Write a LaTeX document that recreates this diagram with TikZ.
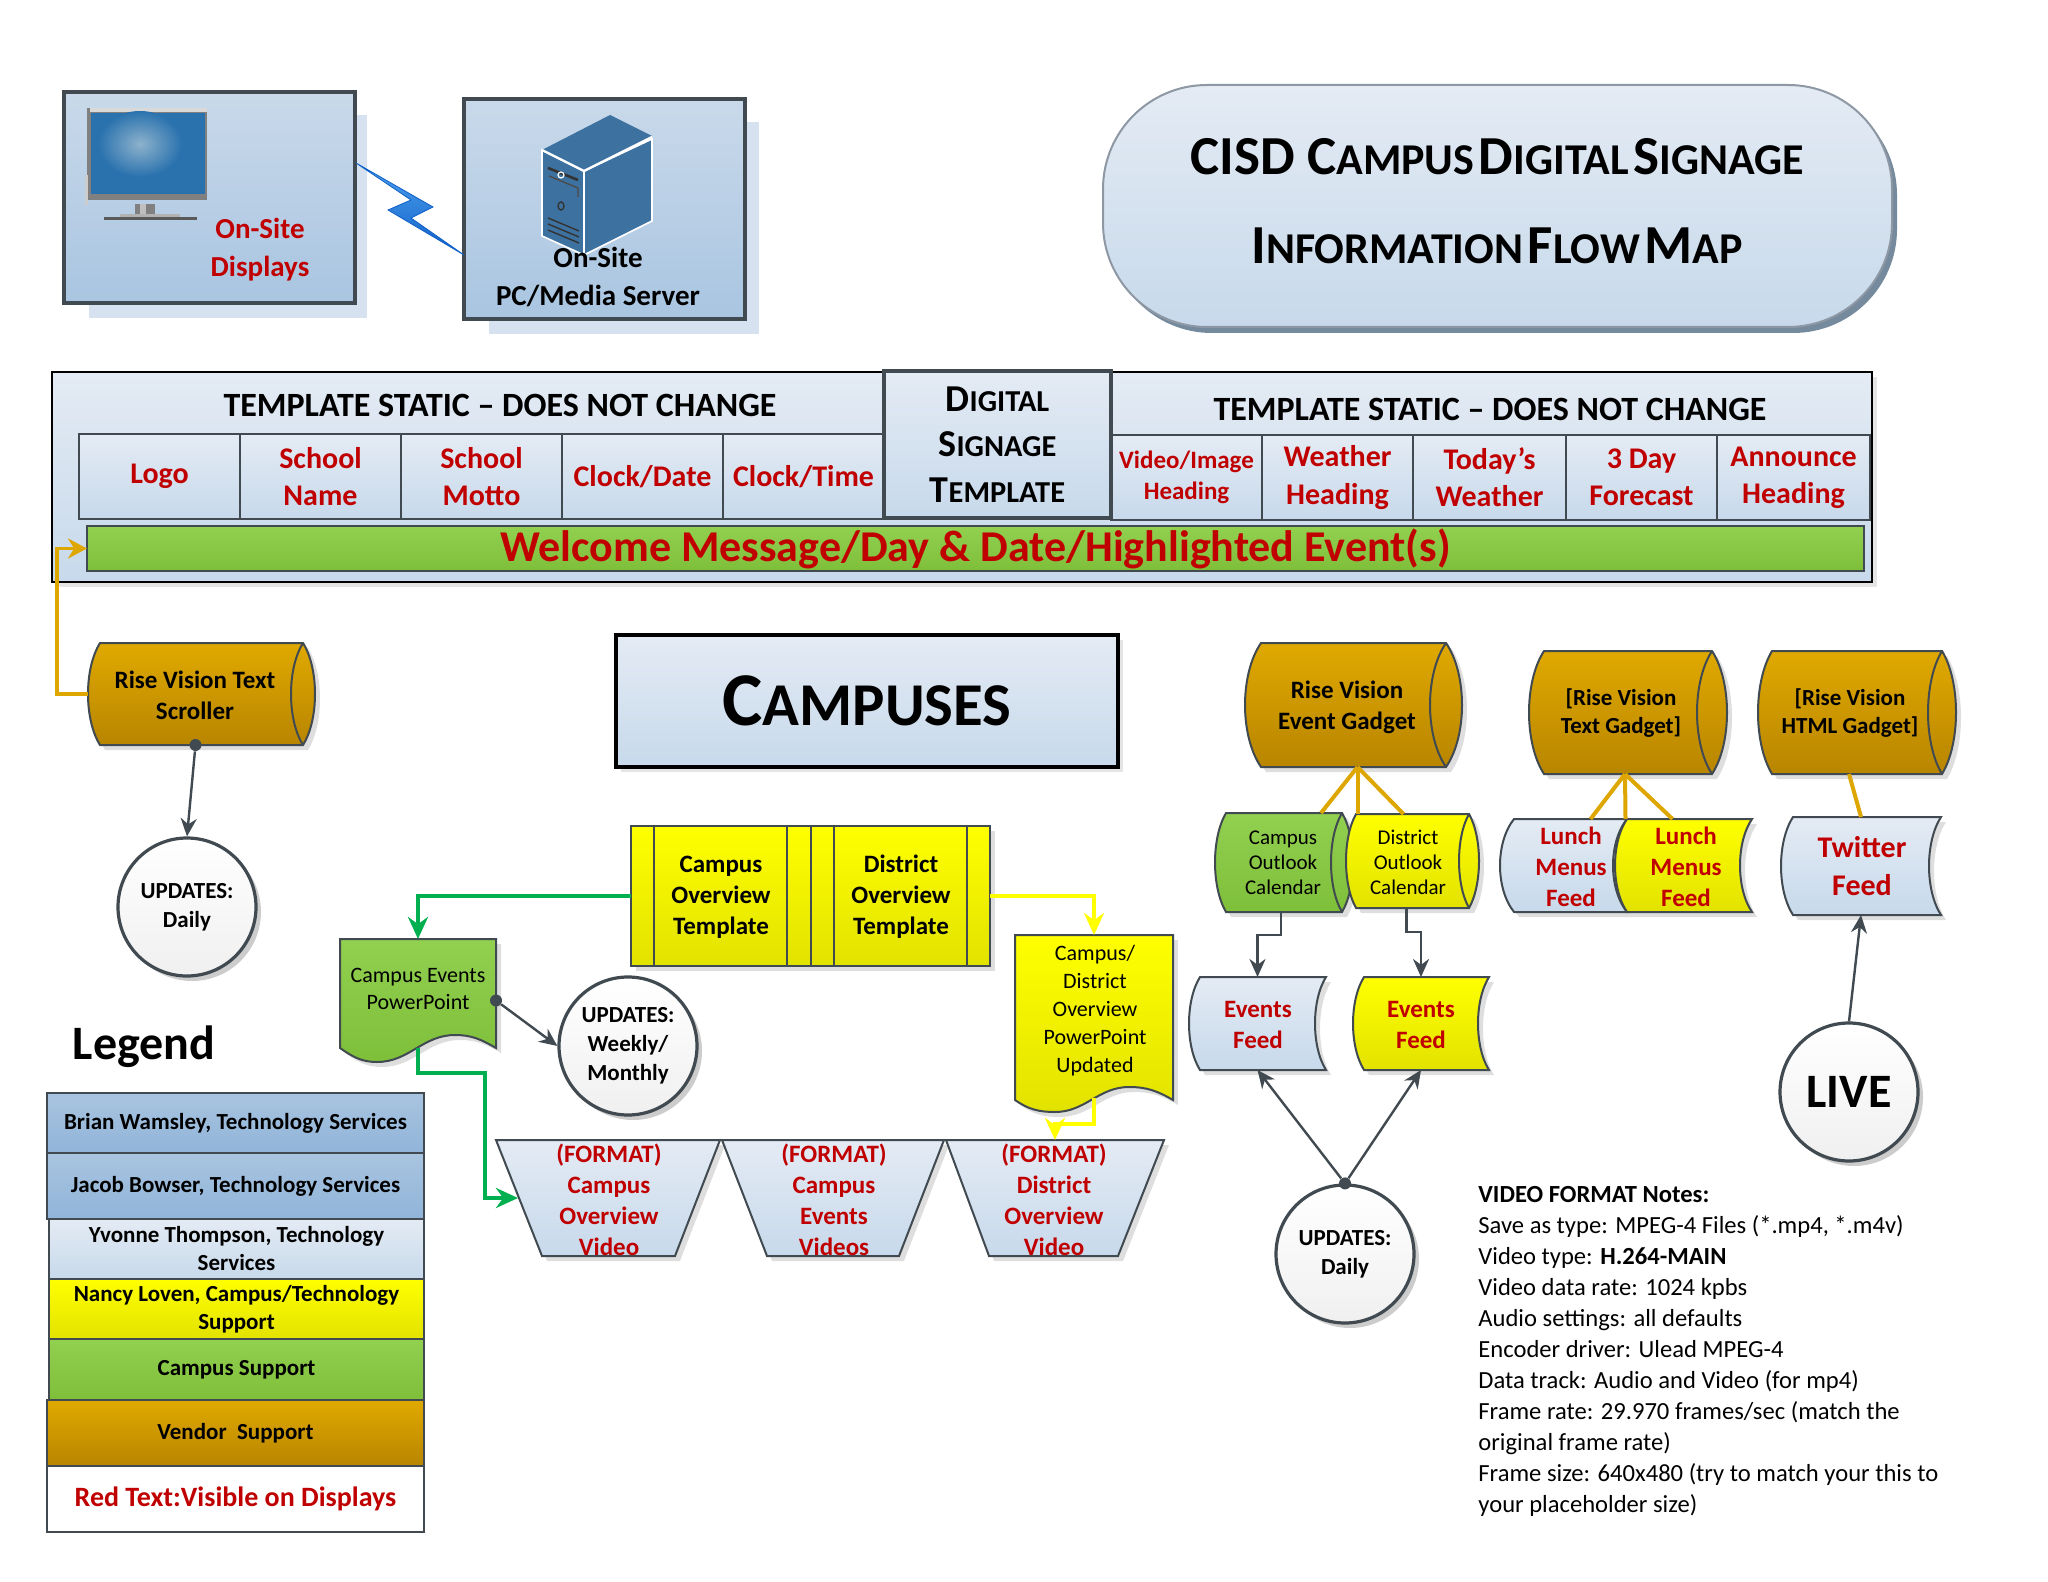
\documentclass[tikz,border=0pt]{standalone}
\usepackage{fontspec}
\setmainfont{Carlito}
\usetikzlibrary{arrows.meta,calc,shadows}
\definecolor{rd}{HTML}{C00000}
\definecolor{ln}{HTML}{404A50}
\definecolor{gldl}{HTML}{DDA600}
\definecolor{grnl}{HTML}{00B050}
\definecolor{ylwl}{HTML}{FFFF00}
\definecolor{scrn}{HTML}{2A72AE}
\definecolor{glow}{HTML}{8DB2CC}
\definecolor{srvc}{HTML}{3D719F}
\definecolor{boltA}{HTML}{4FA3EE}
\definecolor{boltB}{HTML}{0F5FC8}
\newcommand{\fs}[2]{\fontsize{#1}{#2}\selectfont}
\newcommand{\smc}[3]{{\fontsize{#1}{#1}\selectfont #2}{\fontsize{\fpeval{#1*0.8}}{#1}\selectfont #3}}
\tikzset{
 x=0.5pt,y=-0.5pt,
 shp/.style={draw=ln,line width=1pt,drop shadow={shadow xshift=2.5pt,shadow yshift=-2.5pt,opacity=.13,fill=black}},
 plain/.style={draw=ln,line width=1pt},
 lt/.style={top color=ltA,bottom color=ltB},
 bx/.style={top color=bxA,bottom color=bxB},
 blu/.style={top color=bluA,bottom color=bluB},
 ylw/.style={top color=ylwA,bottom color=ylwB},
 grn/.style={top color=grnA,bottom color=grnB},
 gld/.style={top color=gldA,bottom color=gldB},
 t/.style={inner sep=0,outer sep=0,align=center},
 ghost/.style={inner sep=0,outer sep=0},
 circ/.style={circle,draw=ln,line width=1.6pt,fill=white,top color=white,bottom color=black!6,minimum size=69pt,inner sep=0,align=center,font=\fs{11.5}{14.5}\bfseries,drop shadow={shadow xshift=2.5pt,shadow yshift=-2.5pt,opacity=.2,fill=black}},
 dot/.style={circle,fill=ln,inner sep=0,minimum size=6pt},
 ar/.style={draw=ln,line width=1.2pt,-{Stealth[length=9pt,width=8pt]}},
 gar/.style={draw=grnl,line width=2pt,-{Stealth[length=11pt,width=10pt]}},
 yar/.style={draw=ylwl,line width=2pt,-{Stealth[length=11pt,width=10pt]}},
 gln/.style={draw=gldl,line width=2pt},
 redb/.style={text=rd,font=\fs{15}{18.6}\bfseries},
 cellsty/.style={draw=ln,line width=.9pt,lt,redb},
 lg/.style={font=\fs{11.5}{14}\bfseries,draw=ln,line width=.8pt},
}
\definecolor{ltA}{HTML}{E4EBF4}\definecolor{ltB}{HTML}{C7D9EB}
\definecolor{bxA}{HTML}{C9D9EA}\definecolor{bxB}{HTML}{A9C5E1}
\definecolor{bluA}{HTML}{A9C4DF}\definecolor{bluB}{HTML}{90B4D9}
\definecolor{ylwA}{HTML}{FFFF00}\definecolor{ylwB}{HTML}{E2E200}
\definecolor{grnA}{HTML}{92D050}\definecolor{grnB}{HTML}{7EBF3A}
\definecolor{gldA}{HTML}{E0A900}\definecolor{gldB}{HTML}{B88500}
% rectangle node: name,x1,y1,x2,y2,style,text
\newcommand{\Rect}[7]{\node[inner sep=0,outer sep=0,align=center,minimum width={(#4-#2)*0.5pt},minimum height={(#5-#3)*0.5pt},#6] (#1) at ({(#2+#4)/2},{(#3+#5)/2}) {#7};}
\newcommand{\Ghost}[5]{\node[ghost,minimum width={(#4-#2)*0.5pt},minimum height={(#5-#3)*0.5pt}] (#1) at ({(#2+#4)/2},{(#3+#5)/2}) {};}
% drive: name,x1,y1,x2,y2,d,style
\newcommand{\Drive}[7]{%
 \pgfmathsetmacro\ka{#2+#6}\pgfmathsetmacro\kb{#4-#6}\pgfmathsetmacro\kc{#6*1.333}%
 \pgfmathsetmacro\ku{#3+(#5-#3)*0.25}\pgfmathsetmacro\kv{#5-(#5-#3)*0.25}%
 \path[shp,#7] (\ka,#3) -- (\kb,#3) .. controls ({\kb+\kc},\ku) and ({\kb+\kc},\kv) .. (\kb,#5) -- (\ka,#5) .. controls ({\ka-\kc},\kv) and ({\ka-\kc},\ku) .. (\ka,#3) -- cycle;
 \draw[plain] (\kb,#3) .. controls ({\kb-\kc},\ku) and ({\kb-\kc},\kv) .. (\kb,#5);
 \Ghost{#1}{#2}{#3}{#4}{#5}}
% stored data: name,x1,y1,x2,y2,d,style
\newcommand{\Stored}[7]{%
 \pgfmathsetmacro\ka{#2+#6}\pgfmathsetmacro\kc{#6*1.333}%
 \pgfmathsetmacro\ku{#3+(#5-#3)*0.25}\pgfmathsetmacro\kv{#5-(#5-#3)*0.25}%
 \path[shp,#7] (\ka,#3) -- (#4,#3) .. controls ({#4-\kc},\ku) and ({#4-\kc},\kv) .. (#4,#5) -- (\ka,#5) .. controls ({\ka-\kc},\kv) and ({\ka-\kc},\ku) .. (\ka,#3) -- cycle;
 \Ghost{#1}{#2}{#3}{#4}{#5}}
% document: name,x1,y1,x2,yEnd,xBot,yBot,xCrest,yCrest,style
\newcommand{\Doc}[9]{\def\dA{#1}\def\dB{#2}\def\dC{#3}\def\dD{#4}\def\dE{#5}\def\dF{#6}\def\dG{#7}\def\dH{#8}\def\dI{#9}\DocC}
\newcommand{\DocC}[1]{%
 \path[shp,#1] (\dB,\dC) -- (\dD,\dC) -- (\dD,\dE) to[out=150,in=0] (\dH,\dI) to[out=180,in=0] (\dF,\dG) to[out=180,in=-35] (\dB,\dE) -- cycle;
 \Ghost{\dA}{\dB}{\dC}{\dD}{\dG}}
% trapezoid: name,x1,x2,y1,y2,xb1,xb2
\newcommand{\Trap}[7]{%
 \path[shp,lt] (#2,#4) -- (#3,#4) -- (#7,#5) -- (#6,#5) -- cycle;
 \Ghost{#1}{#2}{#4}{#3}{#5}}
\begin{document}
\begin{tikzpicture}
\useasboundingbox (0,0) rectangle (2048,1582);
\fill[white] (0,0) rectangle (2048,1582);
% --- top-left boxes
\fill[bxA!75] (89,115) rectangle (367,318);
\Rect{disp}{64}{92}{355}{303}{draw=ln,line width=1.7pt,bx}{}
\fill[bxA!75] (489,122) rectangle (759,334);
\Rect{srv}{464}{99}{745}{319}{draw=ln,line width=1.7pt,bx}{}
% lightning
\path[draw=boltB,line width=.4pt,top color=boltA,bottom color=boltB] (356,163) -- (433,207) -- (411,218) -- (464,255) -- (388,210) -- (411,200) -- cycle;
% monitor
\fill[black!50] (87,108) rectangle (207,200);
\fill[black!15] (90,108) rectangle (207,112);
\fill[black!20] (85,175) rectangle (88,205);
\fill[scrn] (91,113) rectangle (205,194);
\shade[inner color=glow,outer color=scrn] (140,144) ellipse (42 and 33);
\fill[black!50] (135,204) rectangle (155,216);
\fill[black!25] (140,204) rectangle (146,216);
\fill[black!65] (104,217) rectangle (197,220);
\fill[black!30] (120,214) rectangle (180,217);
% server
\fill[srvc,draw=white,line width=.8pt] (542,150) -- (584,171) -- (584,255) -- (542,236) -- cycle;
\fill[srvc] (610,115) -- (652,136) -- (584,171) -- (542,150) -- cycle;
\fill[srvc,draw=white,line width=.8pt] (584,171) -- (652,139) -- (652,221) -- (584,255) -- cycle;
\draw[white,line width=1.2pt] (542,150) -- (584,171) -- (652,137);
\draw[black!80,line width=1.3pt] (548,168) -- (578,180);
\draw[black!70,line width=.7pt] (549,176) -- (578,188) -- (578,197);
\draw[white,line width=.6pt] (561,175) circle (3);
\draw[black!80,line width=.7pt] (561,206) circle (3 and 4);
\foreach \yy in {218,224,230}{\draw[black!80,line width=.7pt] (548,\yy) -- (579,{\yy+13});}
\node[t,font=\fs{14.5}{19}\bfseries,text=rd] (tdisp) at (260,250) {On-Site\\Displays};
\node[t,font=\fs{14.5}{19}\bfseries] (tsrv) at (598,277) {On-Site\\PC/Media Server};
% --- title capsule
\path[fill=black!30!bxB,rounded corners=52pt] (1108,91) -- (1897,91) -- (1897,333) -- (1108,333) -- cycle;
\path[draw=black!30!bxA,line width=1pt,lt,rounded corners=52pt] (1103,85) -- (1892,85) -- (1892,327) -- (1103,327) -- cycle;
\node[t,font=\bfseries] (title1) at (1497,157) {\smc{27.5}{CISD C}{AMPUS} \smc{27.5}{D}{IGITAL} \smc{27.5}{S}{IGNAGE}};
\node[t,font=\bfseries] (title2) at (1497,246) {\smc{27.5}{I}{NFORMATION} \smc{27.5}{F}{LOW} \smc{27.5}{M}{AP}};
% --- template band
\Rect{tpl}{52}{372}{1872}{582}{draw=black,line width=1pt,lt,drop shadow={shadow xshift=2.5pt,shadow yshift=-2.5pt,opacity=.1,fill=black}}{}
\node[t,font=\fs{17}{20}\bfseries] (st1) at (500,405) {TEMPLATE STATIC – DOES NOT CHANGE};
\node[t,font=\fs{17}{20}\bfseries] (st2) at (1490,409) {TEMPLATE STATIC – DOES NOT CHANGE};
\Rect{c1}{79}{434}{240}{519}{cellsty}{Logo}
\Rect{c2}{240}{434}{401}{519}{cellsty}{School\\Name}
\Rect{c3}{401}{434}{562}{519}{cellsty}{School\\Motto}
\Rect{c4}{562}{434}{723}{519}{cellsty}{Clock/Date}
\Rect{c5}{723}{434}{884}{519}{cellsty}{Clock/Time}
\Rect{c6}{1111}{435}{1262}{520}{draw=ln,line width=.9pt,lt,text=rd,font=\fs{12.5}{15.5}\bfseries}{Video/Image\\Heading}
\Rect{c7}{1262}{435}{1413}{520}{cellsty}{Weather\\Heading}
\Rect{c8}{1413}{435}{1566}{520}{cellsty}{Today’s\\Weather}
\Rect{c9}{1566}{435}{1717}{520}{cellsty}{3 Day\\Forecast}
\Rect{c10}{1717}{435}{1870}{520}{cellsty}{Announce\\Heading}
\Rect{dst}{884}{371}{1111}{518}{draw=ln,line width=2.2pt,lt,font=\fs{19}{22.7}\bfseries}{\smc{19}{D}{IGITAL}\\\smc{19}{S}{IGNAGE}\\\smc{19}{T}{EMPLATE}}
\Rect{bar}{87}{526}{1864}{571}{draw=ln,line width=.9pt,grn,text=rd,font=\fs{22}{24}\bfseries}{Welcome Message/Day \& Date/Highlighted Event(s)}
% --- scroller and updates
\Drive{scr}{88}{643}{315}{745}{12}{gld}
\node[t,font=\fs{12.5}{15.5}\bfseries] (tscr) at (195,695) {Rise Vision Text\\Scroller};
\draw[draw=gldl,line width=1.6pt,-{Stealth[length=9.5pt,width=10pt]}] (scr.west) -- ++(-31,0) |- (bar.west);
\node[circ] (up1) at (187,907) {UPDATES:\\Daily};
\node[dot] (d1) at ($(scr.south)+(-6,0)$) {};
\draw[ar] (d1) -- (up1.north);
% --- campuses
\Rect{camp}{616}{635}{1118}{767}{draw=black,line width=1.6pt,lt,font=\bfseries,drop shadow={shadow xshift=2.5pt,shadow yshift=-2.5pt,opacity=.1,fill=black}}{\smc{38}{C}{AMPUSES}}
% --- templates
\Rect{tc}{631}{826}{811}{966}{shp,ylw}{}
\Rect{td}{811}{826}{990}{966}{shp,ylw}{}
\draw[plain] (654,826) -- (654,966) (787,826) -- (787,966) (834,826) -- (834,966) (967,826) -- (967,966);
\node[t,font=\fs{12.5}{15.5}\bfseries] (ttc) at (721,897) {Campus\\Overview\\Template};
\node[t,font=\fs{12.5}{15.5}\bfseries] (ttd) at (901,897) {District\\Overview\\Template};
% --- documents
\Doc{pc}{340}{939}{496}{1048}{377}{1062}{455}{1035}{grn}
\node[t,font=\fs{11}{13.7}] (tpc) at (418,989) {Campus Events\\PowerPoint};
\Doc{pd}{1015}{935}{1173}{1100}{1055}{1112}{1129}{1087}{ylw}
\node[t,font=\fs{11}{14}] (tpd) at (1095,1011) {Campus/\\District\\Overview\\PowerPoint\\Updated};
\node[circ] (up2) at (628,1046) {UPDATES:\\Weekly/\\Monthly};
\node[dot] (d2) at (pc.east) {};
\draw[ar] (d2) -- (up2.west);
% --- trapezoids
\Trap{f1}{496}{720}{1140}{1256}{542}{675}
\Trap{f2}{722}{944}{1140}{1256}{767}{899}
\Trap{f3}{946}{1164}{1140}{1256}{989}{1118}
\node[t,font=\fs{12.5}{15.5}\bfseries,text=rd] (tf1) at (609,1200) {(FORMAT)\\Campus\\Overview\\Video};
\node[t,font=\fs{12.5}{15.5}\bfseries,text=rd] (tf2) at (834,1200) {(FORMAT)\\Campus\\Events\\Videos};
\node[t,font=\fs{12.5}{15.5}\bfseries,text=rd] (tf3) at (1054,1200) {(FORMAT)\\District\\Overview\\Video};
\draw[gar] (tc.west) -| (pc.north);
\draw[gar] ($(pc.south)+(0,-14)$) -- ++(0,25) -- ++(67,0) |- ($(f1.west)+(22,0)$);
\draw[yar] (td.east) -| (pd.north);
\draw[yar] ($(pd.south)+(0,-14)$) -- ++(0,26) -| (f3.north);
% --- gadgets
\Drive{ev}{1245}{643}{1462}{767}{16}{gld}
\node[t,font=\fs{12.5}{15.5}\bfseries] (tev) at (1347,707) {Rise Vision\\Event Gadget};
\Drive{tx}{1529}{651}{1727}{774}{15}{gld}
\node[t,font=\fs{11.5}{14}\bfseries] (ttx) at (1621,713) {[Rise Vision\\Text Gadget]};
\Drive{ht}{1758}{651}{1956}{774}{14}{gld}
\node[t,font=\fs{11.5}{14}\bfseries] (tht) at (1850,713) {[Rise Vision\\HTML Gadget]};
\Drive{cal1}{1215}{813}{1353}{912}{11}{grn}
\node[t,font=\fs{10.5}{12.5}] (tcal1) at (1283,863) {Campus\\Outlook\\Calendar};
\Drive{cal2}{1346}{814}{1479}{908}{10}{ylw}
\node[t,font=\fs{10.5}{12.5}] (tcal2) at (1408,862) {District\\Outlook\\Calendar};
\Stored{lb}{1500}{819}{1627}{912}{14}{lt}
\node[t,font=\fs{12.5}{15.5}\bfseries,text=rd] (tlb) at (1571,867) {Lunch\\Menus\\Feed};
\Stored{ly}{1615}{819}{1752}{912}{12}{ylw}
\node[t,font=\fs{12.5}{15.5}\bfseries,text=rd] (tly) at (1686,867) {Lunch\\Menus\\Feed};
\Stored{tw}{1781}{817}{1941}{915}{12}{lt}
\node[t,font=\fs{15}{18.6}\bfseries,text=rd] (ttw) at (1862,866) {Twitter\\Feed};
\Stored{eb}{1189}{977}{1326}{1070}{11}{lt}
\node[t,font=\fs{12.5}{15.5}\bfseries,text=rd] (teb) at (1258,1025) {Events\\Feed};
\Stored{ey}{1353}{977}{1489}{1070}{11}{ylw}
\node[t,font=\fs{12.5}{15.5}\bfseries,text=rd] (tey) at (1421,1025) {Events\\Feed};
\draw[gln] ($(ev.south)+(4,0)$) -- ($(cal1.north)+(37,0)$);
\draw[gln] ($(ev.south)+(4,0)$) -- ($(cal2.north)+(-55,0)$);
\draw[gln] ($(ev.south)+(4,0)$) -- ($(cal2.north)+(-9,0)$);
\draw[gln] ($(tx.south)+(-3,0)$) -- ($(lb.north)+(27,0)$);
\draw[gln] ($(tx.south)+(-3,0)$) -- ($(lb.north)+(62,0)$);
\draw[gln] ($(tx.south)+(-3,0)$) -- ($(ly.north)+(-11,0)$);
\draw[gln] ($(ht.south)+(-8,0)$) -- (tw.north);
\draw[ar] ($(cal1.south)+(-3,0)$) -- ++(0,23) -| (eb.north);
\draw[ar] ($(cal2.south)+(-6,0)$) -- ++(0,24) -| (ey.north);
\node[circ] (up3) at (1345,1254) {UPDATES:\\Daily};
\node[dot] (d3) at (up3.north) {};
\draw[ar] (d3) -- (eb.south);
\draw[ar] (d3) -- (ey.south);
\node[circ,font=\fs{24}{28}\bfseries] (live) at (1849,1092) {LIVE};
\draw[ar] (live.north) -- (tw.south);
% --- legend
\node[t,font=\fs{24}{28}\bfseries] (leg) at (144,1047) {Legend};
\Rect{l1}{47}{1093}{424}{1153}{lg,blu}{Brian Wamsley, Technology Services}
\Rect{l2}{47}{1153}{424}{1219}{lg,blu}{Jacob Bowser, Technology Services}
\Rect{l3}{49}{1219}{424}{1279}{lg,lt}{Yvonne Thompson, Technology\\Services}
\Rect{l4}{49}{1279}{424}{1339}{lg,ylw}{Nancy Loven, Campus/Technology\\Support}
\Rect{l5}{49}{1339}{424}{1400}{lg,grn}{Campus Support}
\Rect{l6}{47}{1400}{424}{1466}{lg,gld}{Vendor\ \ Support}
\Rect{l7}{47}{1466}{424}{1532}{draw=ln,line width=.8pt,fill=white,text=rd,font=\fs{14}{16}\bfseries}{Red Text:Visible on Displays}
% --- notes
\node[anchor=north west,inner sep=0,align=left,font=\fs{12.3}{15.5}] (notes) at (1478,1186) {\textbf{VIDEO FORMAT Notes:}\\Save as type: MPEG-4 Files (*.mp4, *.m4v)\\Video type: \textbf{H.264-MAIN}\\Video data rate: 1024 kpbs\\Audio settings: all defaults\\Encoder driver: Ulead MPEG-4\\Data track: Audio and Video (for mp4)\\Frame rate: 29.970 frames/sec (match the\\original frame rate)\\Frame size: 640x480 (try to match your this to\\your placeholder size)};
\end{tikzpicture}
\end{document}
